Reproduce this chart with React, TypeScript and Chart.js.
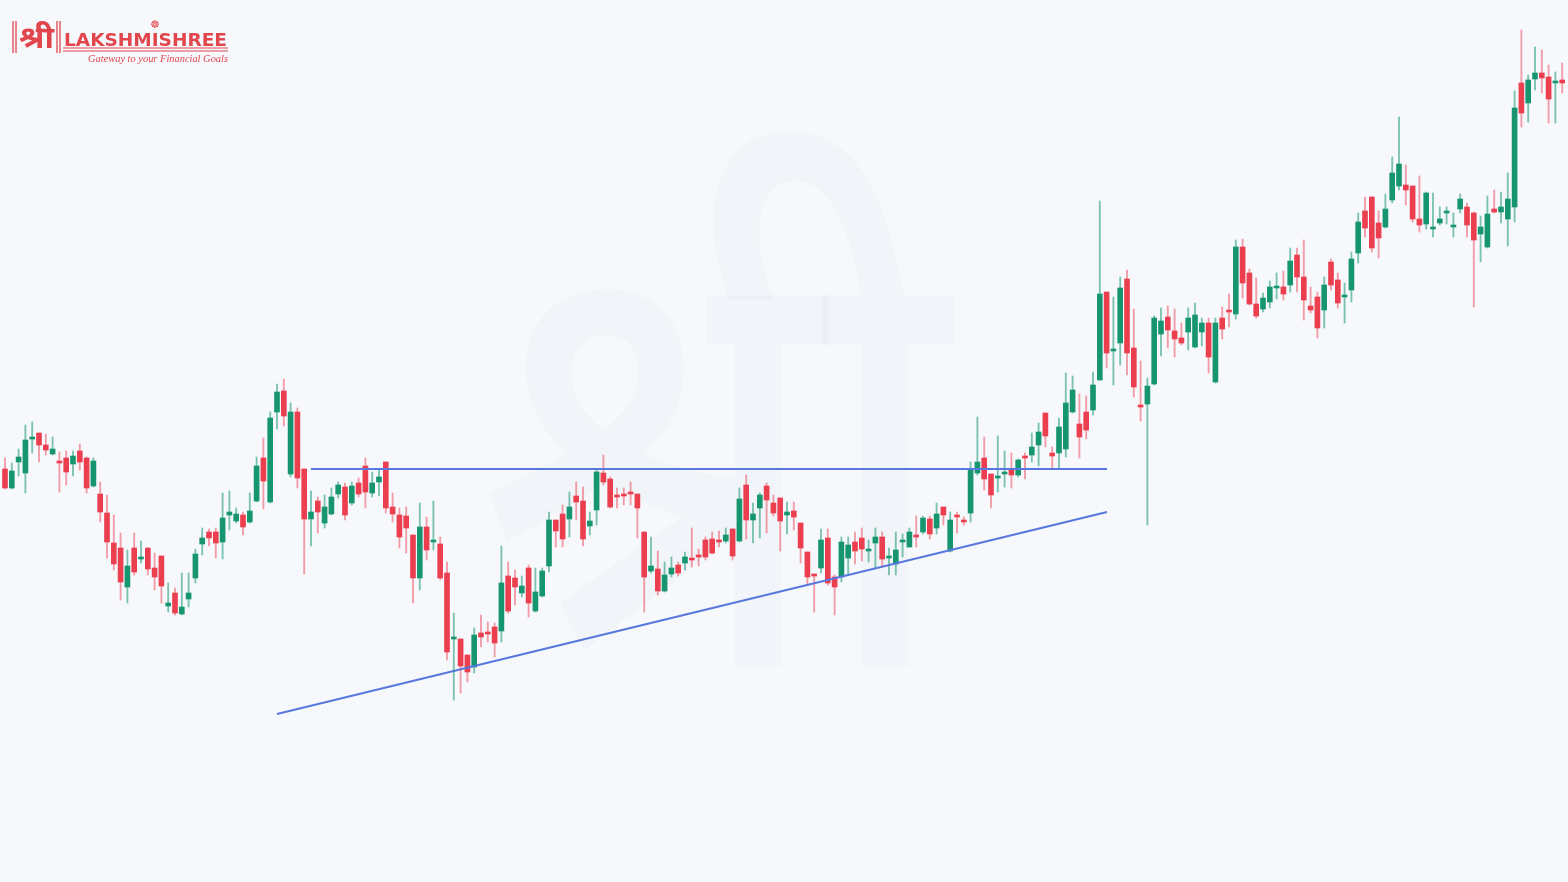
import React, { useEffect, useRef } from "react";
import { Chart, registerables } from "chart.js";

Chart.register(...registerables);

// Candle OHLC values (arbitrary price units), one per session
const opens = [
  431, 412, 438, 427, 461, 467, 455, 446, 438, 442, 436, 449, 442, 414, 406, 387, 357, 352, 313, 352,
  341, 352, 332, 344, 294, 307, 286, 301, 322, 356, 368, 368, 358, 385, 379, 385, 378, 399, 442, 398,
  488, 509, 426, 488, 431, 381, 399, 377, 386, 406, 413, 397, 417, 434, 407, 418, 438, 393, 385, 384,
  365, 322, 373, 358, 356, 327, 261, 261, 245, 233, 267, 268, 273, 269, 324, 322, 307, 332, 289, 304,
  334, 380, 386, 381, 404, 399, 374, 390, 427, 421, 405, 406, 407, 406, 368, 329, 331, 309, 326, 335,
  337, 342, 344, 360, 361, 360, 359, 371, 359, 415, 380, 392, 414, 397, 402, 385, 389, 377, 348, 326,
  332, 362, 323, 323, 342, 358, 362, 349, 357, 363, 342, 336, 358, 353, 365, 368, 381, 372, 393, 349,
  385, 379, 387, 427, 442, 426, 422, 426, 431, 425, 443, 445, 455, 487, 447, 447, 451, 488, 476, 488,
  490, 520, 608, 549, 557, 621, 552, 495, 496, 516, 566, 583, 569, 562, 568, 553, 568, 577, 518, 582,
  590, 586, 653, 627, 596, 591, 598, 612, 613, 615, 645, 623, 594, 603, 590, 638, 620, 603, 610, 647,
  689, 703, 677, 673, 700, 714, 715, 714, 681, 676, 671, 677, 687, 673, 691, 693, 687, 666, 653, 691,
  688, 681, 693, 817, 797, 821, 827, 823, 817, 820,
];
const highs = [
  442, 437, 451, 475, 478, 467, 466, 463, 448, 449, 449, 456, 443, 442, 418, 405, 385, 367, 350, 367,
  359, 352, 347, 344, 317, 312, 327, 327, 351, 372, 371, 372, 407, 409, 392, 388, 407, 443, 462, 488,
  516, 521, 497, 492, 431, 409, 403, 405, 412, 418, 417, 418, 422, 442, 428, 430, 438, 407, 392, 393,
  365, 397, 383, 399, 363, 338, 287, 261, 245, 272, 285, 278, 277, 354, 338, 330, 324, 335, 332, 332,
  388, 380, 395, 408, 418, 413, 388, 430, 445, 423, 412, 412, 418, 406, 368, 363, 349, 338, 343, 338,
  348, 372, 351, 363, 368, 369, 372, 371, 412, 425, 397, 407, 417, 405, 402, 398, 398, 377, 348, 326,
  371, 371, 325, 363, 363, 368, 372, 360, 372, 368, 352, 368, 366, 372, 384, 384, 384, 397, 393, 388,
  388, 383, 438, 483, 463, 426, 464, 449, 447, 441, 447, 467, 477, 487, 453, 482, 527, 524, 506, 504,
  528, 699, 608, 603, 623, 630, 591, 539, 522, 584, 592, 594, 591, 577, 592, 597, 582, 582, 582, 593,
  606, 660, 661, 631, 622, 607, 619, 627, 629, 652, 652, 660, 613, 608, 623, 641, 627, 617, 648, 687,
  703, 703, 689, 706, 743, 783, 735, 714, 724, 708, 707, 693, 693, 687, 706, 697, 688, 684, 704, 710,
  708, 727, 809, 870, 825, 853, 850, 835, 828, 837,
];
const lows = [
  411, 411, 424, 407, 447, 438, 445, 445, 408, 415, 424, 430, 407, 413, 378, 342, 330, 300, 297, 325,
  337, 325, 310, 297, 288, 285, 285, 293, 317, 345, 354, 342, 341, 370, 377, 365, 377, 398, 391, 397,
  471, 474, 423, 412, 326, 354, 367, 372, 385, 402, 380, 395, 403, 392, 403, 404, 387, 378, 352, 347,
  297, 310, 340, 350, 320, 240, 200, 207, 218, 227, 253, 258, 243, 258, 287, 295, 303, 283, 288, 303,
  328, 353, 353, 363, 380, 354, 365, 375, 415, 392, 392, 395, 395, 362, 288, 327, 305, 308, 323, 324,
  330, 333, 334, 340, 346, 353, 357, 340, 358, 361, 357, 362, 367, 384, 349, 366, 370, 337, 315, 288,
  327, 315, 285, 318, 325, 336, 339, 338, 332, 333, 325, 325, 343, 353, 353, 366, 361, 366, 375, 348,
  367, 375, 378, 425, 410, 392, 408, 413, 412, 423, 421, 438, 434, 453, 432, 432, 443, 487, 442, 461,
  485, 520, 532, 515, 535, 525, 503, 479, 375, 515, 544, 552, 543, 555, 550, 552, 554, 527, 517, 561,
  573, 581, 602, 595, 582, 588, 592, 601, 600, 608, 608, 580, 587, 562, 572, 610, 592, 577, 598, 637,
  663, 648, 642, 672, 697, 710, 695, 678, 668, 671, 663, 675, 676, 663, 687, 663, 593, 638, 652, 687,
  677, 654, 678, 773, 778, 810, 807, 777, 777, 807,
];
const closes = [
  412, 429, 443, 460, 463, 455, 450, 451, 437, 428, 444, 438, 412, 439, 388, 358, 336, 318, 334, 328,
  343, 331, 323, 314, 297, 287, 293, 307, 346, 362, 362, 357, 382, 388, 386, 373, 389, 434, 419, 482,
  508, 484, 488, 422, 381, 388, 388, 393, 403, 415, 385, 414, 406, 408, 417, 423, 392, 386, 363, 372,
  322, 373, 350, 359, 322, 248, 262, 234, 228, 265, 263, 266, 257, 317, 289, 313, 314, 297, 308, 329,
  380, 369, 361, 393, 398, 361, 379, 428, 418, 393, 403, 404, 406, 392, 323, 334, 309, 325, 332, 327,
  343, 340, 343, 343, 347, 358, 365, 344, 401, 380, 386, 405, 400, 387, 379, 388, 383, 352, 323, 324,
  360, 317, 313, 358, 355, 349, 351, 351, 363, 341, 344, 350, 360, 368, 363, 382, 366, 386, 385, 380,
  383, 378, 430, 438, 421, 405, 424, 427, 425, 440, 442, 453, 468, 464, 444, 473, 497, 510, 463, 470,
  515, 606, 547, 551, 612, 547, 513, 493, 514, 582, 579, 570, 561, 557, 582, 585, 577, 543, 577, 571,
  588, 653, 617, 596, 584, 602, 613, 613, 606, 639, 623, 600, 590, 572, 615, 615, 597, 604, 641, 678,
  672, 652, 662, 691, 727, 736, 710, 681, 675, 707, 672, 681, 688, 673, 701, 675, 660, 673, 686, 688,
  693, 701, 792, 787, 820, 827, 822, 801, 819, 817,
];

// Drawn trend lines: horizontal resistance and rising support (candle index, price)
const resistanceIdx = [45, 162.06];
const resistanceVal = [431, 431];
const supportIdx = [40, 162.06];
const supportVal = [186, 388];

const UP = "#16956f";
const DOWN = "#eb3f4f";
const UP_WICK = "rgba(22,149,111,0.55)";
const DOWN_WICK = "rgba(235,63,79,0.5)";
const LINE = "#5878de";
const LOGO_RED = "#e1464d";

export default function App() {
  const ref = useRef<HTMLCanvasElement | null>(null);

  useEffect(() => {
    if (!ref.current) return;
    const idx = opens.map((_, i) => i);
    const up = idx.map((i) => closes[i] >= opens[i]);
    const wickData = idx.map((i) => ({ x: i, y: [lows[i], highs[i]] }));
    const bodyData = idx.map((i) => ({
      x: i,
      y: [Math.min(opens[i], closes[i]), Math.max(opens[i], closes[i])],
    }));

    const chart = new Chart(ref.current, {
      type: "bar",
      data: {
        datasets: [
          {
            type: "line",
            data: resistanceIdx.map((x, k) => ({ x, y: resistanceVal[k] })),
            borderColor: LINE,
            borderWidth: 1.8,
            pointRadius: 0,
            order: 0,
          } as any,
          {
            type: "line",
            data: supportIdx.map((x, k) => ({ x, y: supportVal[k] })),
            borderColor: LINE,
            borderWidth: 2,
            pointRadius: 0,
            order: 0,
          } as any,
          {
            type: "bar",
            data: bodyData as any,
            backgroundColor: up.map((u) => (u ? UP : DOWN)),
            barThickness: 5,
            minBarLength: 2,
            grouped: false,
            borderWidth: 0,
            borderSkipped: false,
            order: 1,
          } as any,
          {
            type: "bar",
            data: wickData as any,
            backgroundColor: up.map((u) => (u ? UP_WICK : DOWN_WICK)),
            barThickness: 1.2,
            grouped: false,
            borderWidth: 0,
            order: 2,
          } as any,
        ],
      },
      options: {
        animation: false,
        responsive: true,
        maintainAspectRatio: false,
        layout: { padding: 0 },
        plugins: { legend: { display: false }, tooltip: { enabled: false } },
        scales: {
          x: {
            type: "linear",
            display: false,
            offset: false,
            min: -5 / 6.8,
            max: (1568 - 5) / 6.8,
          },
          y: {
            type: "linear",
            display: false,
            min: 18,
            max: 900,
          },
        },
      } as any,
    });
    return () => chart.destroy();
  }, []);

  return (
    <div
      style={{
        position: "fixed",
        left: 0,
        top: 0,
        width: "100vw",
        height: "100vh",
        background: "#f6f8fc",
        overflow: "hidden",
      }}
    >
      <div
        style={{
          position: "absolute",
          left: 413,
          top: 125,
          width: 600,
          height: 700,
          textAlign: "center",
          fontSize: 470,
          lineHeight: "700px",
          fontWeight: 500,
          color: "rgba(20,30,60,0.02)",
          fontFamily: "'Noto Sans Devanagari', 'Noto Sans', sans-serif",
          transform: "scaleY(1.27)",
          transformOrigin: "50% 177px",
        }}
      >
        श्री
      </div>
      <div style={{ position: "absolute", left: 0, top: 0, width: "100%", height: "100%" }}>
        <canvas ref={ref} />
      </div>
      <svg width={240} height={70} style={{ position: "absolute", left: 0, top: 0 }}>
        <line x1={13} y1={21} x2={13} y2={53} stroke={LOGO_RED} strokeWidth={1.3} />
        <line x1={16} y1={21} x2={16} y2={53} stroke={LOGO_RED} strokeWidth={1.3} />
        <text
          x={19}
          y={48}
          fontSize={31}
          fontWeight={700}
          fill={LOGO_RED}
          fontFamily="'Noto Sans Devanagari', 'Noto Sans', sans-serif"
          textLength={35}
          lengthAdjust="spacingAndGlyphs"
        >
          श्री
        </text>
        <line x1={57} y1={21} x2={57} y2={53} stroke={LOGO_RED} strokeWidth={1.3} />
        <line x1={60} y1={21} x2={60} y2={53} stroke={LOGO_RED} strokeWidth={1.3} />
        <text
          x={64}
          y={46}
          fontSize={17}
          fontWeight={700}
          fill={LOGO_RED}
          fontFamily="'DejaVu Sans', sans-serif"
          textLength={163}
          lengthAdjust="spacingAndGlyphs"
        >
          LAKSHMISHREE
        </text>
        <text x={150} y={28} fontSize={11} fill={LOGO_RED} fontFamily="'DejaVu Sans', sans-serif">
          ☸
        </text>
        <line x1={63} y1={48} x2={228} y2={48} stroke={LOGO_RED} strokeWidth={1} />
        <line x1={63} y1={51} x2={228} y2={51} stroke={LOGO_RED} strokeWidth={1} />
        <text
          x={88}
          y={62}
          fontSize={10}
          fontStyle="italic"
          fill={LOGO_RED}
          fontFamily="'Liberation Serif', serif"
          textLength={140}
          lengthAdjust="spacingAndGlyphs"
        >
          Gateway to your Financial Goals
        </text>
      </svg>
    </div>
  );
}
